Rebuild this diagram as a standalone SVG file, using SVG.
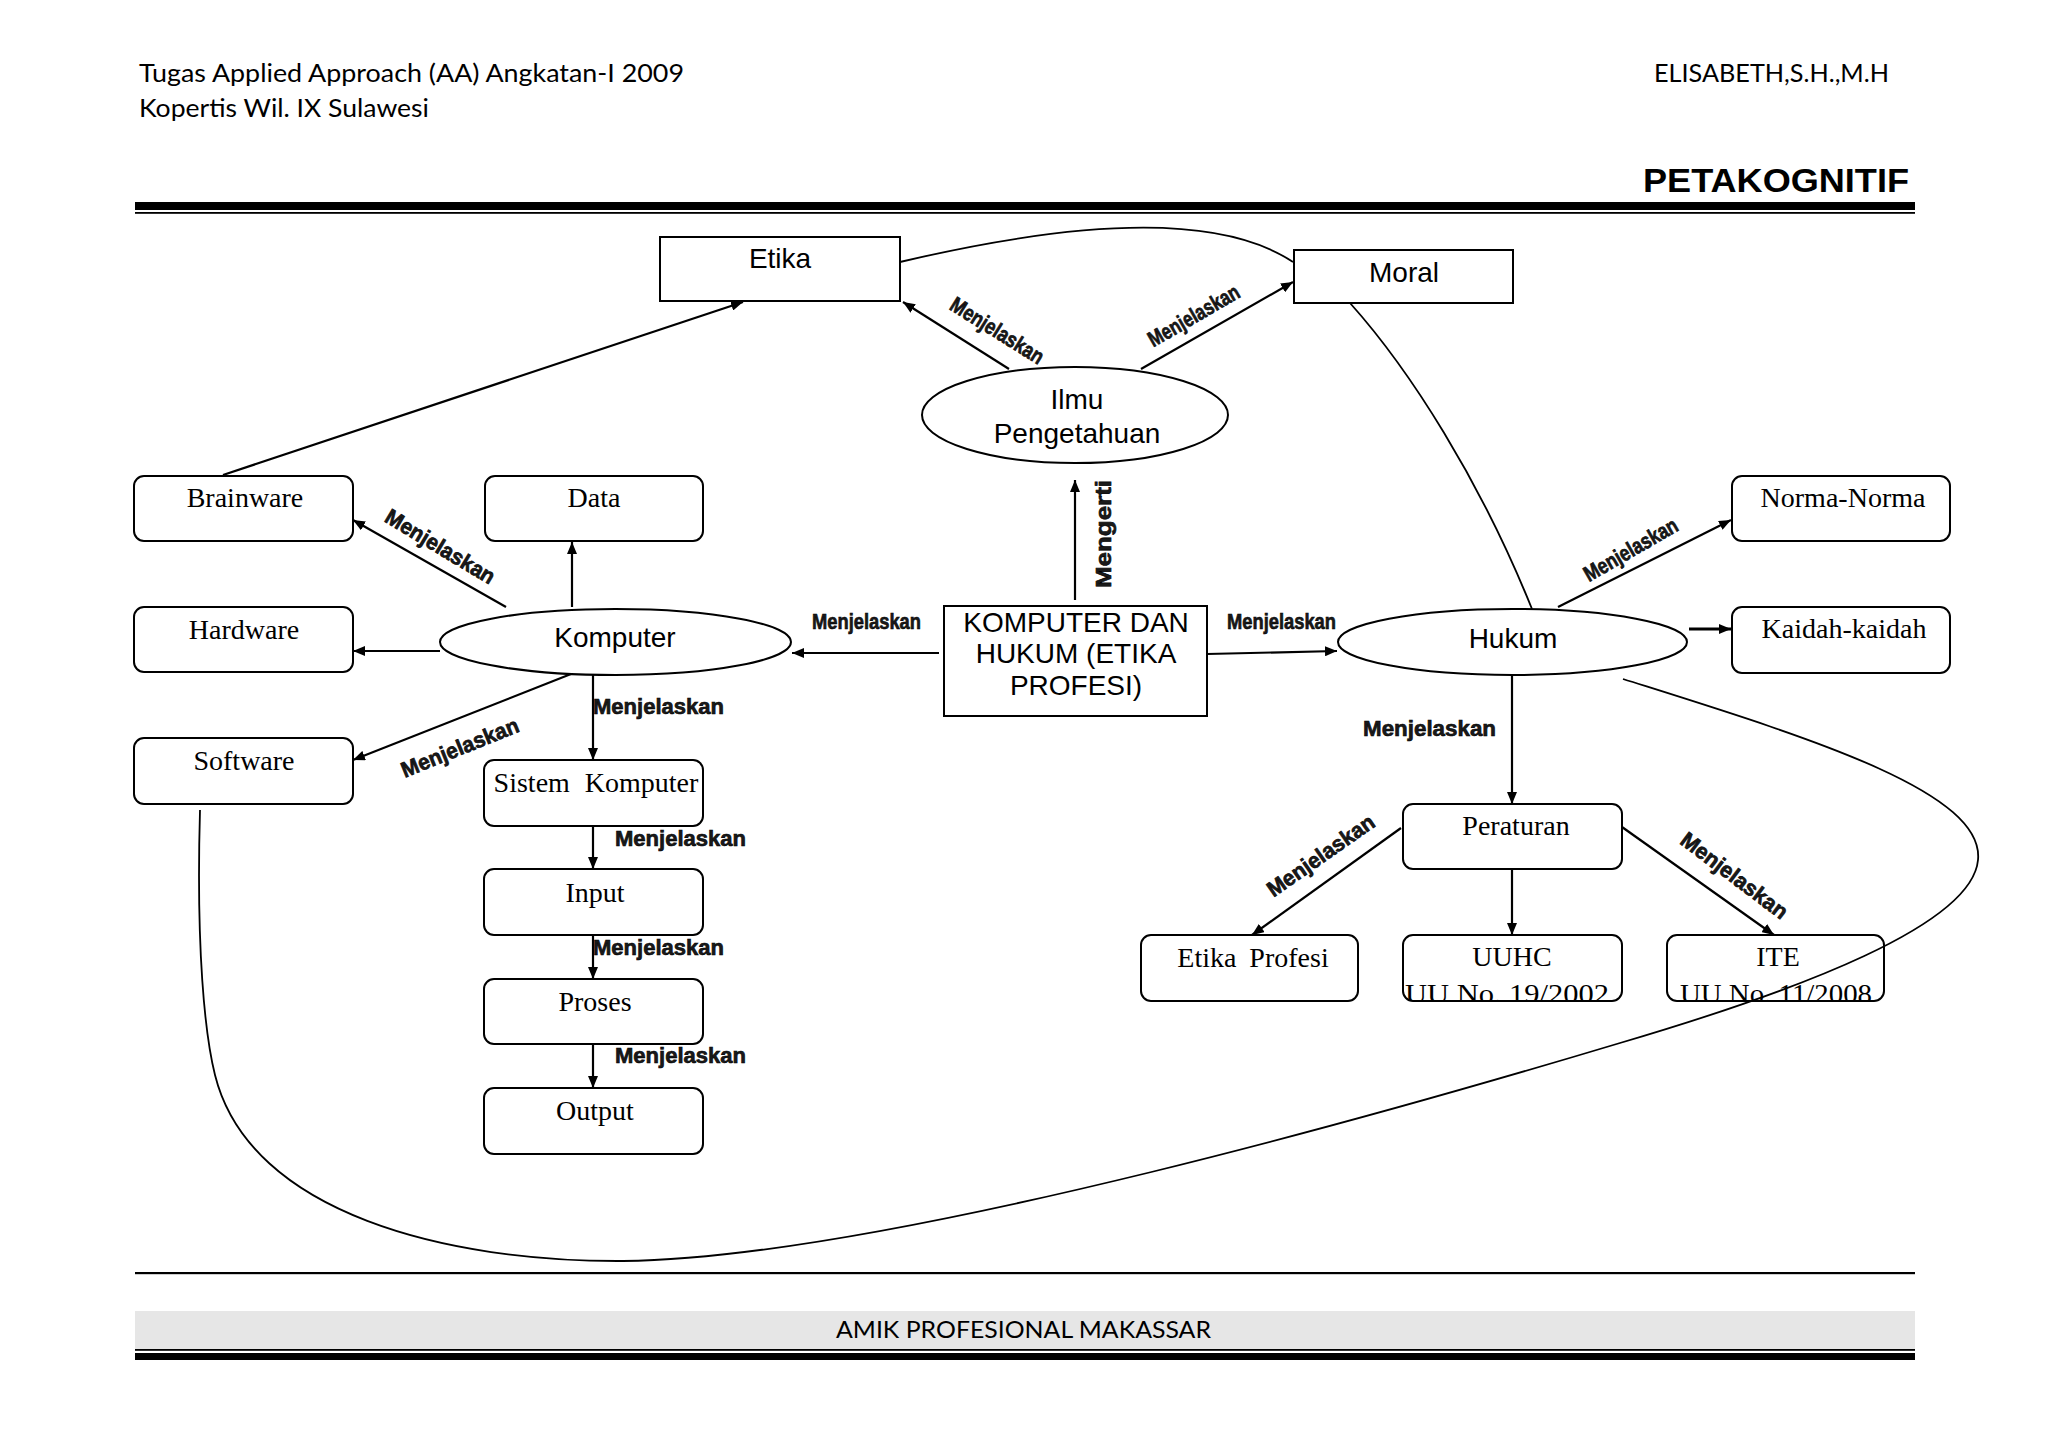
<svg xmlns="http://www.w3.org/2000/svg" width="2048" height="1448" viewBox="0 0 2048 1448">
<style>
.hdr{font-family:Lato,"Noto Sans","Liberation Sans",sans-serif;fill:#000}
.box{fill:#fff;stroke:#000;stroke-width:2}
.rbox{fill:#fff;stroke:#000;stroke-width:2}
.ell{fill:#fff;stroke:#000;stroke-width:2}
.sans{font-family:"Liberation Sans",Arial,sans-serif;font-size:28px;fill:#000;text-anchor:middle}
.serif{font-family:"Liberation Serif","Times New Roman",serif;font-size:28px;fill:#000;text-anchor:middle}
.lbl{font-family:"Liberation Sans",Arial,sans-serif;font-weight:bold;font-size:22px;fill:#1a1a1a;stroke:#000;stroke-width:0.6}
.conn line{stroke:#000;stroke-width:2.2;fill:none;marker-end:url(#ah)}
.conn path.c{stroke:#000;stroke-width:1.8;fill:none}
</style>
<defs>
<marker id="ah" markerUnits="userSpaceOnUse" markerWidth="13" markerHeight="10" refX="12" refY="5" orient="auto">
<path d="M0,0 L12,5 L0,10 z" fill="#000"/>
</marker>
<clipPath id="clipUU"><rect x="1403" y="935" width="219" height="65"/></clipPath>
<clipPath id="clipITE"><rect x="1667" y="935" width="217" height="65"/></clipPath>
</defs>
<rect x="0" y="0" width="2048" height="1448" fill="#fff"/>

<g id="header">
<text class="hdr" x="139" y="82" font-size="25" textLength="545" lengthAdjust="spacingAndGlyphs">Tugas Applied Approach (AA) Angkatan-I 2009</text>
<text class="hdr" x="139" y="117" font-size="25" textLength="290" lengthAdjust="spacingAndGlyphs">Kopertis Wil. IX Sulawesi</text>
<text class="hdr" x="1654" y="82" font-size="25" textLength="235" lengthAdjust="spacingAndGlyphs">ELISABETH,S.H.,M.H</text>
<text x="1643" y="192" font-family="Liberation Sans,Arial,sans-serif" font-weight="bold" font-size="34" textLength="266" lengthAdjust="spacingAndGlyphs">PETAKOGNITIF</text>
<rect x="135" y="202" width="1780" height="8" fill="#000"/>
<rect x="135" y="212" width="1780" height="1.8" fill="#000"/>
</g>

<g id="footer">
<rect x="135" y="1272" width="1780" height="2.2" fill="#000"/>
<rect x="135" y="1311" width="1780" height="38" fill="#e6e6e6"/>
<text class="hdr" x="836" y="1338" font-size="23" textLength="375" lengthAdjust="spacingAndGlyphs">AMIK PROFESIONAL MAKASSAR</text>
<rect x="135" y="1349" width="1780" height="1.8" fill="#000"/>
<rect x="135" y="1353" width="1780" height="7" fill="#000"/>
</g>

<g id="etika"><rect class="box" x="660" y="237" width="240" height="64"/><text class="sans" x="780" y="268">Etika</text></g>
<g id="moral"><rect class="box" x="1294" y="250" width="219" height="53"/><text class="sans" x="1404" y="282">Moral</text></g>
<g id="ilmu"><ellipse class="ell" cx="1075" cy="415" rx="153" ry="48"/><text class="sans" x="1077" y="409">Ilmu</text><text class="sans" x="1077" y="443">Pengetahuan</text></g>
<g id="pusat"><rect class="box" x="944" y="606" width="263" height="110"/>
<text class="sans" x="1076" y="632" font-size="26">KOMPUTER DAN</text>
<text class="sans" x="1076" y="663" font-size="26">HUKUM (ETIKA</text>
<text class="sans" x="1076" y="695" font-size="26">PROFESI)</text></g>
<g id="komputer"><ellipse class="ell" cx="615.5" cy="642" rx="175.5" ry="33"/><text class="sans" x="615" y="647">Komputer</text></g>
<g id="hukum"><ellipse class="ell" cx="1512.5" cy="642" rx="174.5" ry="33"/><text class="sans" x="1513" y="648">Hukum</text></g>
<g id="brainware"><rect class="rbox" x="134" y="476" width="219" height="65" rx="10"/><text class="serif" x="245" y="507">Brainware</text></g>
<g id="data"><rect class="rbox" x="485" y="476" width="218" height="65" rx="10"/><text class="serif" x="594" y="507">Data</text></g>
<g id="hardware"><rect class="rbox" x="134" y="607" width="219" height="65" rx="10"/><text class="serif" x="244" y="639">Hardware</text></g>
<g id="software"><rect class="rbox" x="134" y="738" width="219" height="66" rx="10"/><text class="serif" x="244" y="770">Software</text></g>
<g id="sistem"><rect class="rbox" x="484" y="760" width="219" height="66" rx="10"/><text class="serif" x="596" y="792" word-spacing="8">Sistem Komputer</text></g>
<g id="input"><rect class="rbox" x="484" y="869" width="219" height="66" rx="10"/><text class="serif" x="595" y="902">Input</text></g>
<g id="proses"><rect class="rbox" x="484" y="979" width="219" height="65" rx="10"/><text class="serif" x="595" y="1011">Proses</text></g>
<g id="output"><rect class="rbox" x="484" y="1088" width="219" height="66" rx="10"/><text class="serif" x="595" y="1120">Output</text></g>
<g id="norma"><rect class="rbox" x="1732" y="476" width="218" height="65" rx="10"/><text class="serif" x="1843" y="507">Norma-Norma</text></g>
<g id="kaidah"><rect class="rbox" x="1732" y="607" width="218" height="66" rx="10"/><text class="serif" x="1844" y="638">Kaidah-kaidah</text></g>
<g id="peraturan"><rect class="rbox" x="1403" y="804" width="219" height="65" rx="10"/><text class="serif" x="1516" y="835">Peraturan</text></g>
<g id="etikaprofesi"><rect class="rbox" x="1141" y="935" width="217" height="66" rx="10"/><text class="serif" x="1253" y="967" word-spacing="6">Etika Profesi</text></g>
<g id="uuhc"><rect class="rbox" x="1403" y="935" width="219" height="66" rx="10"/><text class="serif" x="1512" y="966">UUHC</text>
<text class="serif" x="1507" y="1003" font-size="29" textLength="204" lengthAdjust="spacingAndGlyphs" clip-path="url(#clipUU)">UU No. 19/2002</text></g>
<g id="ite"><rect class="rbox" x="1667" y="935" width="217" height="66" rx="10"/><text class="serif" x="1778" y="966">ITE</text>
<text class="serif" x="1776" y="1003" font-size="29" textLength="192" lengthAdjust="spacingAndGlyphs" clip-path="url(#clipITE)">UU No. 11/2008</text></g>

<g id="connectors" class="conn">
<path class="c" d="M900,262 C1010,236 1200,200 1293,262"/>
<path class="c" d="M1350,303 C1410,370 1480,480 1532,609"/>
<path class="c" d="M1623,679 C1800,735 1985,790 1978,860 C1972,925 1800,990 1620,1043 C1430,1100 890,1258 623,1261 C450,1262 250,1215 215,1075 C205,1035 196,950 200,810"/>
<line x1="223" y1="475" x2="743" y2="302"/>
<line x1="1009" y1="369" x2="903" y2="302"/>
<line x1="1141" y1="369" x2="1293" y2="282"/>
<line x1="1075" y1="600" x2="1075" y2="480"/>
<line x1="939" y1="653" x2="792" y2="653"/>
<line x1="1207" y1="654" x2="1337" y2="651"/>
<line x1="506" y1="607" x2="353" y2="520"/>
<line x1="572" y1="607" x2="572" y2="542"/>
<line x1="440" y1="651" x2="353" y2="651"/>
<line x1="571" y1="674" x2="353" y2="760"/>
<line x1="593" y1="675" x2="593" y2="760"/>
<line x1="593" y1="826" x2="593" y2="869"/>
<line x1="593" y1="935" x2="593" y2="979"/>
<line x1="593" y1="1044" x2="593" y2="1088"/>
<line x1="1558" y1="607" x2="1731" y2="520"/>
<line x1="1689" y1="629" x2="1731" y2="629" style="stroke-width:3"/>
<line x1="1512" y1="675" x2="1512" y2="804"/>
<line x1="1401" y1="828" x2="1252" y2="935"/>
<line x1="1512" y1="869" x2="1512" y2="935"/>
<line x1="1622" y1="827" x2="1774" y2="935"/>
</g>

<g id="labels">
<text class="lbl" transform="translate(997,331) rotate(32)" x="0" y="7" text-anchor="middle" textLength="106" lengthAdjust="spacingAndGlyphs">Menjelaskan</text>
<text class="lbl" transform="translate(1194,316) rotate(-30)" x="0" y="7" text-anchor="middle" textLength="102" lengthAdjust="spacingAndGlyphs">Menjelaskan</text>
<text class="lbl" transform="translate(1111,534) rotate(-90)" x="0" y="0" text-anchor="middle" font-size="26" textLength="108" lengthAdjust="spacingAndGlyphs">Mengerti</text>
<text class="lbl" x="812" y="629" font-size="21" textLength="109" lengthAdjust="spacingAndGlyphs">Menjelaskan</text>
<text class="lbl" x="1227" y="629" font-size="21" textLength="109" lengthAdjust="spacingAndGlyphs">Menjelaskan</text>
<text class="lbl" transform="translate(440,547) rotate(31)" x="0" y="7" text-anchor="middle" textLength="124" lengthAdjust="spacingAndGlyphs">Menjelaskan</text>
<text class="lbl" transform="translate(460,748) rotate(-22)" x="0" y="7" text-anchor="middle" textLength="125" lengthAdjust="spacingAndGlyphs">Menjelaskan</text>
<text class="lbl" x="593" y="714" textLength="131" lengthAdjust="spacingAndGlyphs">Menjelaskan</text>
<text class="lbl" x="615" y="846" textLength="131" lengthAdjust="spacingAndGlyphs">Menjelaskan</text>
<text class="lbl" x="593" y="955" textLength="131" lengthAdjust="spacingAndGlyphs">Menjelaskan</text>
<text class="lbl" x="615" y="1063" textLength="131" lengthAdjust="spacingAndGlyphs">Menjelaskan</text>
<text class="lbl" transform="translate(1631,550) rotate(-30)" x="0" y="7" text-anchor="middle" textLength="105" lengthAdjust="spacingAndGlyphs">Menjelaskan</text>
<text class="lbl" x="1363" y="736" textLength="133" lengthAdjust="spacingAndGlyphs">Menjelaskan</text>
<text class="lbl" transform="translate(1321,856) rotate(-35)" x="0" y="7" text-anchor="middle" textLength="126" lengthAdjust="spacingAndGlyphs">Menjelaskan</text>
<text class="lbl" transform="translate(1734,876) rotate(37)" x="0" y="7" text-anchor="middle" textLength="128" lengthAdjust="spacingAndGlyphs">Menjelaskan</text>
</g>
</svg>
